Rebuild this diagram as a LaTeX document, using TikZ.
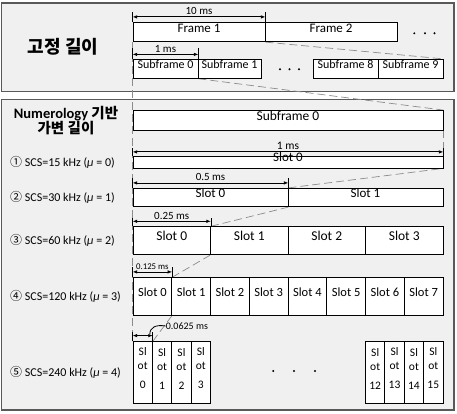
\documentclass[tikz,border=0pt]{standalone}
\usepackage{fontspec}
\setmainfont{Carlito}
\newfontfamily\kr{Noto Sans CJK KR}
\usetikzlibrary{arrows.meta,fit}
\pgfdeclarelayer{bg}\pgfdeclarelayer{mid}\pgfsetlayers{bg,mid,main}
\begin{document}
\begin{tikzpicture}[x=1pt,y=-1pt,
  panel/.style={draw=black!65,fill=black!6,line width=1.4pt},
  box/.style={draw=black,fill=white,line width=0.8pt,inner sep=0pt},
  zoomline/.style={draw=black!45,line width=0.7pt,dash pattern=on 8pt off 4pt},
  dim/.style={{Latex[length=4.5pt,width=3.5pt]}-{Latex[length=4.5pt,width=3.5pt]},line width=0.8pt},
  tickline/.style={line width=0.8pt},
  dimlbl/.style={above=1.5pt,inner sep=0pt},
  rowlbl/.style={anchor=west,inner sep=0pt,font=\fontsize{12}{14}\selectfont}]
\useasboundingbox (0,0) rectangle (457,414);
\begin{pgfonlayer}{bg}
\path[panel] (1.7,3) rectangle (454,91.7);
\path[panel] (1.7,99.5) rectangle (454,410);
\end{pgfonlayer}

% titles
\node[font=\kr\bfseries\fontsize{18}{20}\selectfont] (t1) at (63,46.5) {고정 길이};
\node[align=center,font=\bfseries\fontsize{14.5}{15}\selectfont] (t2) at (66,120.5) {Numerology {\kr 기반}\\{\kr 가변 길이}};

% top panel boxes
\node[box,fit={(133,22.7) (265,41.7)},font=\fontsize{13}{15}\selectfont] (F1) {Frame 1};
\node[box,fit={(265,22.7) (397,41.7)},font=\fontsize{13}{15}\selectfont] (F2) {Frame 2};
\node[box,fit={(133,59.3) (198,78.3)},font=\fontsize{12}{14}\selectfont] (SF0) {Subframe 0};
\node[box,fit={(198,59.3) (261,78.3)},font=\fontsize{12}{14}\selectfont] (SF1) {Subframe 1};
\node[box,fit={(313,59.3) (378,78.3)},font=\fontsize{12}{14}\selectfont] (SF8) {Subframe 8};
\node[box,fit={(378,59.3) (443,78.3)},font=\fontsize{12}{14}\selectfont] (SF9) {Subframe 9};
\foreach \x in {414.3,425,434.5}{\fill (\x,33.3) circle (1.1);}
\foreach \x in {280,289.5,299}{\fill (\x,69.3) circle (1.1);}

% bottom panel boxes
\node[box,fit={(133,110.5) (443,130)},font=\fontsize{13.5}{15}\selectfont] (BSF) {Subframe 0};
\node[box,fit={(133,156) (443,168)},font=\fontsize{13}{15}\selectfont] (A0) {Slot 0};
\node[box,fit={(133,188.3) (288,206.7)},font=\fontsize{13}{15}\selectfont] (B0) {Slot 0};
\node[box,fit={(288,188.3) (443,206.7)},font=\fontsize{13}{15}\selectfont] (B1) {Slot 1};
\foreach \i in {0,...,3}{
  \pgfmathsetmacro\xa{133+77.5*\i}\pgfmathsetmacro\xb{\xa+77.5}
  \node[box,fit={(\xa,226.7) (\xb,254.3)},font=\fontsize{13.5}{15}\selectfont] (C\i) {Slot \i};
}
\foreach \i in {0,...,7}{
  \pgfmathsetmacro\xa{133+38.75*\i}\pgfmathsetmacro\xb{\xa+38.75}
  \node[box,fit={(\xa,277.7) (\xb,315)},font=\fontsize{12.5}{14}\selectfont] (D\i) {Slot \i};
}
\foreach \i in {0,...,3}{
  \pgfmathsetmacro\xa{133+19.375*\i}\pgfmathsetmacro\xb{\xa+19.375}
  \node[box,align=center,fit={(\xa,341.7) (\xb,403.3)},font=\fontsize{11.5}{14}\selectfont] (E\i) {Sl\\ot\\[5pt]\i};
}
\foreach \i in {12,...,15}{
  \pgfmathsetmacro\xa{365.5+19.375*(\i-12)}\pgfmathsetmacro\xb{\xa+19.375}
  \node[box,align=center,fit={(\xa,341.7) (\xb,403.3)},font=\fontsize{11.5}{14}\selectfont] (E\i) {Sl\\ot\\[5pt]\i};
}
\foreach \x in {273.3,294,315}{\fill (\x,371) circle (1.1);}

% row labels
\node[rowlbl] (r1) at (10,162) {{\kr ①}~SCS=15 kHz (\textit{μ} = 0)};
\node[rowlbl] (r2) at (10,197.5) {{\kr ②}~SCS=30 kHz (\textit{μ} = 1)};
\node[rowlbl] (r3) at (10,240.5) {{\kr ③}~SCS=60 kHz (\textit{μ} = 2)};
\node[rowlbl] (r4) at (10,296.3) {{\kr ④}~SCS=120 kHz (\textit{μ} = 3)};
\node[rowlbl] (r5) at (10,372.5) {{\kr ⑤}~SCS=240 kHz (\textit{μ} = 4)};

% zoom lines
\begin{pgfonlayer}{mid}
\draw[zoomline] (F1.south west) -- (E0.north west);
\draw[zoomline] (F1.south east) -- (SF9.north east);
\draw[zoomline] (SF0.south east) -- (BSF.north east);
\draw[zoomline] (BSF.south east) -- (A0.north east);
\draw[zoomline] (B0.north east) -- (A0.south east);
\draw[zoomline] (C0.north east) -- (B0.south east);
\draw[zoomline] (D0.north east) -- (C0.south east);
\draw[zoomline] (E0.north east) -- (D0.south east);
\end{pgfonlayer}

% dimension arrows
\draw[tickline] (F1.north west) -- ([yshift=10pt]F1.north west);
\draw[tickline] (F1.north east) -- ([yshift=10pt]F1.north east);
\draw[dim] ([yshift=5.4pt]F1.north west) -- node[dimlbl,font=\fontsize{11}{13}\selectfont] (l10) {10 ms} ([yshift=5.4pt]F1.north east);

\draw[tickline] (SF0.north west) -- ([yshift=10.5pt]SF0.north west);
\draw[tickline] (SF0.north east) -- ([yshift=10.5pt]SF0.north east);
\draw[dim] ([yshift=4.5pt]SF0.north west) -- node[dimlbl,font=\fontsize{11}{13}\selectfont] (l1a) {1 ms} ([yshift=4.5pt]SF0.north east);

\draw[tickline] (A0.north west) -- ([yshift=7.7pt]A0.north west);
\draw[tickline] (A0.north east) -- ([yshift=7.7pt]A0.north east);
\draw[dim] ([yshift=3.7pt]A0.north west) -- node[dimlbl,font=\fontsize{11.5}{13}\selectfont] (l1b) {1 ms} ([yshift=3.7pt]A0.north east);

\draw[tickline] (B0.north west) -- ([yshift=10pt]B0.north west);
\draw[tickline] (B0.north east) -- ([yshift=10pt]B0.north east);
\draw[dim] ([yshift=5pt]B0.north west) -- node[dimlbl,font=\fontsize{11}{13}\selectfont] (l05) {0.5 ms} ([yshift=5pt]B0.north east);

\draw[tickline] (C0.north west) -- ([yshift=8.4pt]C0.north west);
\draw[tickline] (C0.north east) -- ([yshift=8.4pt]C0.north east);
\draw[dim] ([yshift=5pt]C0.north west) -- node[dimlbl,font=\fontsize{11}{13}\selectfont] (l025) {0.25 ms} ([yshift=5pt]C0.north east);

\draw[tickline] (D0.north west) -- ([yshift=10pt]D0.north west);
\draw[tickline] (D0.north east) -- ([yshift=10pt]D0.north east);
\draw[dim] ([yshift=5.4pt]D0.north west) -- node[dimlbl,font=\fontsize{8.8}{10}\selectfont] (l0125) {0.125 ms} ([yshift=5.4pt]D0.north east);

\draw[tickline] (E0.north west) -- ([yshift=9.4pt]E0.north west);
\draw[tickline] (E0.north east) -- ([yshift=9.4pt]E0.north east);
\draw[dim] ([yshift=5.7pt]E0.north west) -- ([yshift=5.7pt]E0.north east);
\node[anchor=west,inner sep=0pt,font=\fontsize{10}{12}\selectfont] (l0625) at (165.7,326) {0.0625 ms};
\draw[line width=0.8pt] (l0625.west) .. controls (156,324.5) and (150,327) .. ([xshift=-3pt,yshift=7pt]E0.north east);
\end{tikzpicture}
\end{document}
